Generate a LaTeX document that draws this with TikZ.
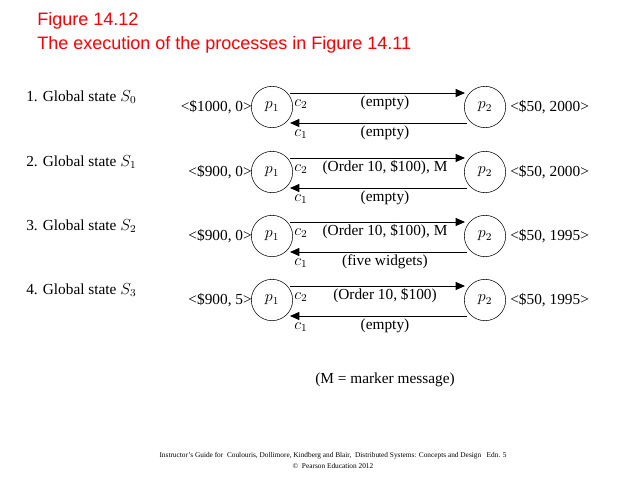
\documentclass[tikz,border=0pt]{standalone}
\usepackage{fontspec}
\setmainfont{Liberation Serif}
\newfontfamily\titlefont{Liberation Sans}
\usetikzlibrary{arrows.meta}
\begin{document}
\begin{tikzpicture}[x=0.75pt,y=-0.75pt,
  proc/.style={draw,circle,minimum size=31pt,inner sep=0pt,font=\fontsize{11.5}{13}\selectfont},
  txt/.style={inner sep=0pt,font=\fontsize{11.5}{13}\selectfont},
  chan/.style={draw,line width=0.7pt,-{Triangle[length=7pt,width=6pt]}}]
\useasboundingbox (0,0) rectangle (638,478);
\node[anchor=west,inner sep=0pt,text=red,font=\titlefont\fontsize{13.5}{15}\selectfont] (t1) at (37,21) {Figure 14.12};
\node[anchor=west,inner sep=0pt,text=red,font=\titlefont\fontsize{13.5}{15}\selectfont] (t2) at (37,45) {The execution of the processes in Figure 14.11};
\foreach \i/\y/\ls/\rs/\top/\bot in {1/107/{<\$1000, 0>}/{<\$50, 2000>}/{(empty)}/{(empty)},
  2/172/{<\$900, 0>}/{<\$50, 2000>}/{(Order 10, \$100), M}/{(empty)},
  3/236/{<\$900, 0>}/{<\$50, 1995>}/{(Order 10, \$100), M}/{(five widgets)},
  4/300/{<\$900, 5>}/{<\$50, 1995>}/{(Order 10, \$100)}/{(empty)}}{
  \pgfmathtruncatemacro\s{\i-1}
  \node[txt,anchor=west] (g\i) at (26,\y-10) {\i. Global state $S_{\s}$};
  \node[proc] (a\i) at (272,\y) {$p_1$};
  \node[proc] (b\i) at (485,\y) {$p_2$};
  \node[txt,anchor=east] (l\i) at (252,\y) {\ls};
  \node[txt,anchor=west] (r\i) at (510,\y) {\rs};
  \coordinate (ta\i) at (290,\y-14);
  \coordinate (tb\i) at (465,\y-14);
  \coordinate (ba\i) at (290,\y+16);
  \coordinate (bb\i) at (467,\y+16);
  \draw[chan] (ta\i) -- (tb\i);
  \draw[chan] (bb\i) -- (ba\i);
  \node[txt] (c2\i) at (301,\y-3) {$c_2$};
  \node[txt] (c1\i) at (301,\y+27) {$c_1$};
  \node[txt] (m\i) at (385,\y-4) {\top};
  \node[txt] (n\i) at (385,\y+26) {\bot};
}
\node[txt] (mk) at (385,380) {(M = marker message)};
\node[inner sep=0pt,font=\fontsize{5.5}{6}\selectfont] (f1) at (333,456) {Instructor's Guide for\ \ Coulouris, Dollimore, Kindberg and Blair,\ \ Distributed Systems: Concepts and Design\ \ \ Edn. 5};
\node[inner sep=0pt,font=\fontsize{5.5}{6}\selectfont] (f2) at (333,466) {\textcopyright\ \ Pearson Education 2012};
\end{tikzpicture}
\end{document}
